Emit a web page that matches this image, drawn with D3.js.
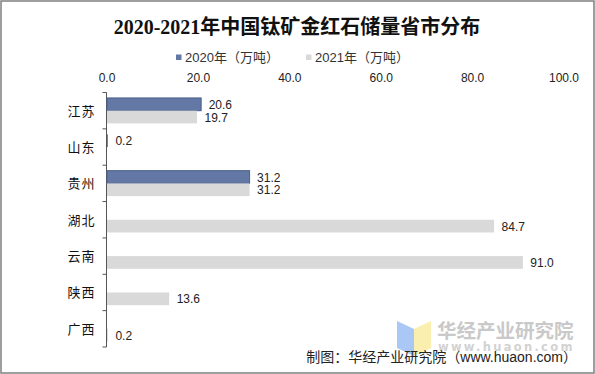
<!DOCTYPE html>
<html><head><meta charset="utf-8">
<script src="https://cdn.jsdelivr.net/npm/d3@7"></script>
<style>body{margin:0;background:#fff}svg{display:block}</style>
</head><body>
<script>
const categories = ["江苏","山东","贵州","湖北","云南","陕西","广西"];
const values2020 = [20.6, 0.2, 31.2, null, null, null, null];
const values2021 = [19.7, null, 31.2, 84.7, 91.0, 13.6, 0.2];
const seriesNames = ["2020年（万吨）","2021年（万吨）"];
const tickValues = [0,20,40,60,80,100];
const title = "2020-2021年中国钛矿金红石储量省市分布";

const W=595,H=374;
const svg=d3.select("body").append("svg").attr("width",W).attr("height",H);
svg.append("rect").attr("x",1).attr("y",1).attr("width",W-2).attr("height",H-2).attr("fill","#fff").attr("stroke","#7f7f7f").attr("stroke-width",1.5);

svg.append("text").attr("x",297).attr("y",34).attr("text-anchor","middle")
  .attr("font-family","'Liberation Serif','Noto Sans CJK SC'").attr("font-weight","bold").attr("font-size",20).attr("fill","#111").text(title);

const x=d3.scaleLinear().domain([0,100]).range([106.5,563.5]);
const y=d3.scaleBand().domain(categories).range([92.5,347]).paddingInner(0.3).paddingOuter(0.15);
const y1=d3.scaleBand().domain([0,1]).range([0,y.bandwidth()]);

// legend
const colors=["#6478a5","#d9d9d9"], strokes=["#4a5e8c","#d0d0d0"];
const leg=[{x:176,t:seriesNames[0]},{x:306,t:seriesNames[1]}];
leg.forEach((l,i)=>{
  svg.append("rect").attr("x",l.x).attr("y",54.5).attr("width",5.5).attr("height",5.5).attr("fill",colors[i]);
  svg.append("text").attr("x",l.x+9).attr("y",62).attr("font-family","'Liberation Sans','Noto Sans CJK SC'").attr("font-size",13).attr("fill","#333").text(l.t);
});

// x axis top
const xa=svg.append("g").attr("transform","translate(0,85)").call(d3.axisTop(x).tickValues(tickValues).tickFormat(d3.format(".1f")).tickSize(0));
xa.select(".domain").remove();
xa.selectAll("text").attr("font-family","'Liberation Sans',Arial").attr("font-size",12).attr("fill","#222");

// y axis
const ya=svg.append("g").attr("transform","translate(106.5,0)");
ya.append("line").attr("x1",0).attr("x2",0).attr("y1",92.5).attr("y2",347).attr("stroke","#555");
const tickYs=d3.range(categories.length+1).map(i=>92.5+i*(347-92.5)/categories.length);
ya.selectAll(".tk").data(tickYs).join("line").attr("x1",-4).attr("x2",0).attr("y1",d=>d).attr("y2",d=>d).attr("stroke","#555");
ya.selectAll(".cl").data(categories).join("text").attr("x",-11).attr("y",d=>y(d)+y.bandwidth()/2+5)
  .attr("text-anchor","end").attr("font-family","'Noto Sans CJK SC'").attr("font-size",13).attr("letter-spacing",1).attr("fill","#111").text(d=>d);

const series=[values2020,values2021];
series.forEach((vals,si)=>{
  const data=categories.map((c,i)=>({c,v:vals[i]})).filter(d=>d.v!=null);
  svg.append("g").selectAll("rect").data(data).join("rect")
    .attr("x",x(0)+0.5).attr("y",d=>y(d.c)+y1(si)).attr("width",d=>Math.max(0,x(d.v)-x(0))).attr("height",y1.bandwidth())
    .attr("fill",colors[si]).attr("stroke",d=>x(d.v)-x(0)>2?strokes[si]:"none").attr("stroke-width",si==0?1:0);
  svg.append("g").selectAll("text").data(data).join("text")
    .attr("x",d=>x(d.v)+8).attr("y",d=>y(d.c)+y1(si)+y1.bandwidth()/2+4.5)
    .attr("font-family","'Liberation Sans',Arial").attr("font-size",12).attr("fill","#222").text(d=>d.v.toFixed(1));
});

// watermark
const wm=svg.append("g");
wm.append("path").attr("d","M397,321 L414,329 L414,356 L397,348 Z").attr("fill","#a9c8f5");
wm.append("path").attr("d","M414,329 L431,321 L431,348 L414,356 Z").attr("fill","#fbefb0");
wm.append("text").attr("x",437).attr("y",338).attr("font-family","'Noto Sans CJK SC'").attr("font-weight","bold").attr("font-size",19.5).attr("fill","#c9c9c9").text("华经产业研究院");
wm.append("text").attr("x",438).attr("y",351).attr("font-family","'DejaVu Sans'").attr("font-weight","bold").attr("font-size",11.5).attr("letter-spacing",2.3).attr("fill","#d2d2d2").text("www.huaon.com");

svg.append("text").attr("x",577).attr("y",362).attr("text-anchor","end").attr("font-family","'Liberation Sans','Noto Sans CJK SC'").attr("font-size",14).attr("fill","#222").text("制图：华经产业研究院（www.huaon.com）");
</script>
</body></html>
